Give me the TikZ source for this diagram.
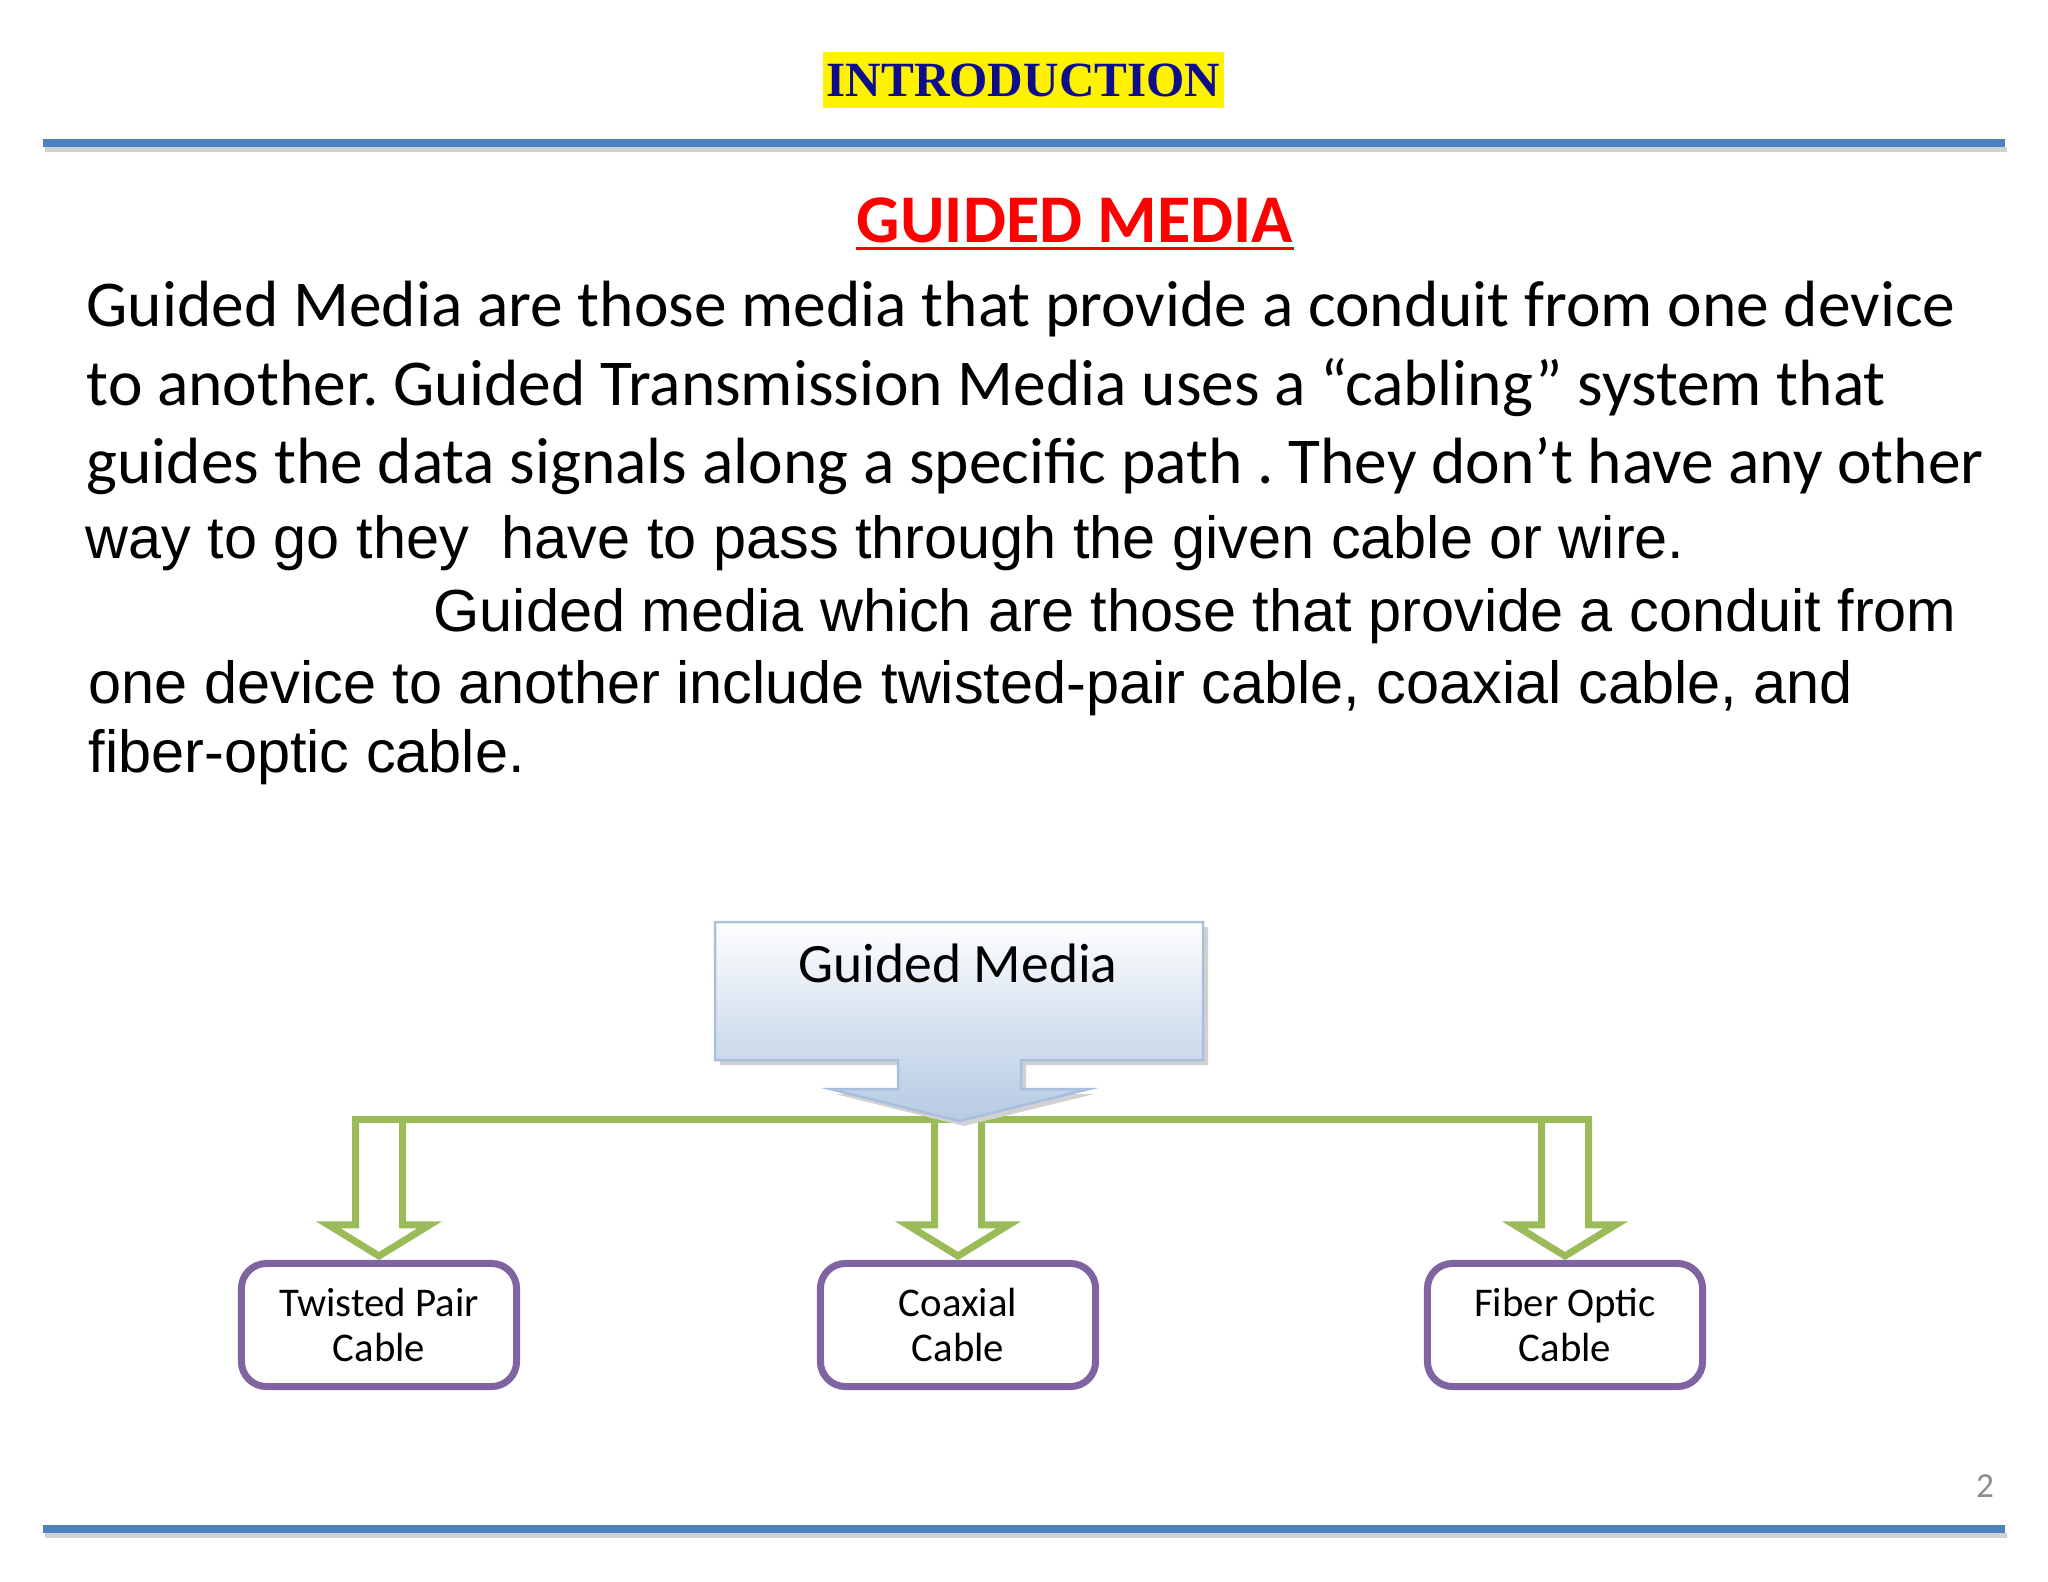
\documentclass[tikz,border=0pt]{standalone}
\usepackage{fontspec}
\setmainfont{Liberation Sans}
\newfontfamily\carlitofont{Carlito}
\newfontfamily\serifbold{Liberation Serif}
\usetikzlibrary{positioning}
\frenchspacing
\definecolor{rulecolor}{RGB}{79,129,189}
\definecolor{branchcolor}{RGB}{155,187,89}
\definecolor{leafcolor}{RGB}{128,100,162}
\definecolor{introcolor}{RGB}{14,14,140}
\definecolor{gmbottom}{RGB}{183,203,228}
\definecolor{gmborder}{RGB}{168,191,221}
\colorlet{pagenumcolor}{black!45}
\colorlet{shadowcolor}{black!18}

\tikzset{
    hl/.style={fill=yellow, text=introcolor, inner xsep=0.035cm, inner ysep=0pt, minimum height=0.56cm,
        font=\serifbold\bfseries\fontsize{14pt}{16pt}\selectfont},
    heading/.style={anchor=base, inner sep=0pt, text=red, font=\carlitofont\bfseries\fontsize{19.4pt}{22pt}\selectfont},
    paraA/.style={anchor=base west, inner sep=0pt, font=\carlitofont\fontsize{18.6pt}{22pt}\selectfont},
    paraB/.style={anchor=base west, inner sep=0pt, font=\fontsize{16.9pt}{20pt}\selectfont},
    branch/.style={draw=branchcolor, line width=0.07cm, line join=miter},
    leaf/.style={draw=leafcolor, line width=0.07cm, rounded corners=0.25cm, minimum width=2.75cm, minimum height=1.23cm,
        inner sep=0pt, align=center, fill=white, font=\carlitofont\fontsize{11.6pt}{12.8pt}\selectfont},
    gmlabel/.style={inner sep=0pt, font=\carlitofont\fontsize{15.8pt}{18pt}\selectfont},
    pagenum/.style={inner sep=0pt, text=pagenumcolor, font=\carlitofont\fontsize{10pt}{12pt}\selectfont}
}

\begin{document}
\begin{tikzpicture}[x=0.01cm, y=-0.01cm]
    \useasboundingbox (0,0) rectangle (2048,1582);

    \node (intro) at (1023.5,80) [hl] {INTRODUCTION};
    \fill[shadowcolor] (45,147) rectangle (2007,152);
    \fill[rulecolor] (43,139) rectangle (2005,147);

    \node (title) at (1075,242) [heading] {GUIDED MEDIA};
    \draw[red, line width=0.03cm] ([yshift=-0.065cm]title.base west) -- ([yshift=-0.065cm]title.base east);

    \node (p1) at (86,327) [paraA] {Guided Media are those media that provide a conduit from one device};
    \node (p2) at (86,405) [paraA] {to another. Guided Transmission Media uses a “cabling” system that};
    \node (p3) at (86,483) [paraA] {guides the data signals along a specific path . They don’t have any other};
    \node (p4) at (85,558) [paraB] {way to go they\ \ have to pass through the given cable or wire.};
    \node (p5) at (433,631) [paraB] {Guided media which are those that provide a conduit from};
    \node (p6) at (88,703) [paraB] {one device to another include twisted-pair cable, coaxial cable, and};
    \node (p7) at (88,772) [paraB] {fiber-optic cable.};

    \node (tp) at (379,1325) [leaf] {Twisted Pair\\Cable};
    \node (cx) at (958,1325) [leaf] {Coaxial\\Cable};
    \node (fo) at (1565,1325) [leaf] {Fiber Optic\\Cable};

    \draw[branch, line cap=rect] ([shift={(-23.5,-140)}]tp.north) -- ([shift={(23.5,-140)}]fo.north);
    \foreach \b in {tp,cx,fo}
        \draw[branch] (\b.north) ++(-23.5,-140) -- ++(0,105) -- ++(-27,0) -- ++(50.5,31) -- ++(50.5,-31) -- ++(-27,0) -- ++(0,-105);

    \fill[shadowcolor, shift={(5,5)}] (715,922) -- (1203,922) -- (1203,1060) -- (1021,1060) -- (1021,1089) -- (1089,1089)
        -- (959,1121) -- (830,1089) -- (898,1089) -- (898,1060) -- (715,1060) -- cycle;
    \shade[top color=white, bottom color=gmbottom, middle color=white!45!gmbottom, draw=gmborder, line width=0.025cm]
        (715,922) -- (1203,922) -- (1203,1060) -- (1021,1060) -- (1021,1089) -- (1089,1089)
        -- (959,1121) -- (830,1089) -- (898,1089) -- (898,1060) -- (715,1060) -- cycle;
    \node (gm) at (958,963) [gmlabel] {Guided Media};

    \node (pg) at (1985,1486) [pagenum] {2};
    \fill[shadowcolor] (45,1533) rectangle (2007,1538);
    \fill[rulecolor] (43,1525) rectangle (2005,1533);
\end{tikzpicture}
\end{document}
